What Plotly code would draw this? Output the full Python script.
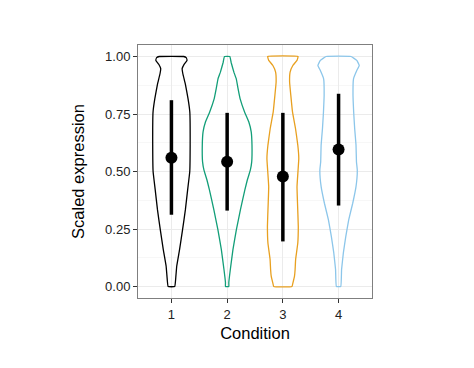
import plotly.graph_objects as go

# ---- data ----
conditions = [1, 2, 3, 4]
tick_labels = ["1", "2", "3", "4"]
colors = ["#000000", "#129E78", "#E8A020", "#8CC6EA"]

# violin outlines: y levels and half-widths (in condition units)
v1_y = [0, 0.045, 0.088, 0.16, 0.247, 0.333, 0.42, 0.50, 0.615, 0.759, 0.817, 0.88, 0.925, 0.947, 0.965, 0.983, 0.995, 1.0]
v1_w = [0.059, 0.080, 0.095, 0.146, 0.200, 0.250, 0.291, 0.329, 0.336, 0.330, 0.298, 0.250, 0.205, 0.192, 0.225, 0.280, 0.265, 0.220]

v2_y = [0, 0.017, 0.074, 0.16, 0.247, 0.333, 0.42, 0.463, 0.506, 0.542, 0.615, 0.672, 0.716, 0.759, 0.817, 0.86, 0.903, 0.932, 0.975, 1.0]
v2_w = [0.030, 0.030, 0.057, 0.104, 0.166, 0.238, 0.318, 0.362, 0.416, 0.441, 0.446, 0.432, 0.388, 0.313, 0.232, 0.196, 0.164, 0.121, 0.071, 0.048]

v3_y = [0, 0.017, 0.045, 0.074, 0.117, 0.189, 0.261, 0.362, 0.434, 0.506, 0.557, 0.615, 0.687, 0.759, 0.831, 0.889, 0.932, 0.961, 0.983, 1.0]
v3_w = [0.164, 0.182, 0.209, 0.220, 0.229, 0.268, 0.277, 0.263, 0.254, 0.273, 0.286, 0.268, 0.227, 0.173, 0.143, 0.121, 0.130, 0.179, 0.254, 0.273]

v4_y = [0, 0.074, 0.146, 0.218, 0.29, 0.362, 0.434, 0.506, 0.542, 0.615, 0.687, 0.759, 0.831, 0.903, 0.939, 0.961, 0.983, 1.0]
v4_w = [0.039, 0.054, 0.086, 0.130, 0.182, 0.254, 0.313, 0.336, 0.321, 0.313, 0.289, 0.271, 0.259, 0.268, 0.327, 0.371, 0.327, 0.223]

violin_y = [v1_y, v2_y, v3_y, v4_y]
violin_w = [v1_w, v2_w, v3_w, v4_w]

# summary: mean and interval
means = [0.560, 0.542, 0.478, 0.596]
upper = [0.810, 0.755, 0.755, 0.838]
lower = [0.312, 0.330, 0.196, 0.352]

y_ticks = [0, 0.25, 0.5, 0.75, 1.0]
y_tick_labels = ["0.00", "0.25", "0.50", "0.75", "1.00"]

# ---- figure ----
fig = go.Figure()

for c, ys, ws, col in zip(conditions, violin_y, violin_w, colors):
    xs = [c - w for w in ws] + [c + w for w in reversed(ws)] + [c - ws[0]]
    yy = list(ys) + list(reversed(ys)) + [ys[0]]
    fig.add_trace(go.Scatter(
        x=xs, y=yy, mode="lines",
        line=dict(color=col, width=1.3, shape="spline", smoothing=0.3),
        hoverinfo="skip", showlegend=False,
    ))

fig.add_trace(go.Scatter(
    x=conditions, y=means, mode="markers",
    marker=dict(color="black", size=12),
    error_y=dict(type="data", symmetric=False,
                 array=[u - m for u, m in zip(upper, means)],
                 arrayminus=[m - l for m, l in zip(means, lower)],
                 color="black", thickness=3.5, width=0),
    showlegend=False,
))

font_family = "Liberation Sans, Arial, sans-serif"

# page body has an 8px margin, so the figure is sized/offset to compensate
fig.update_layout(
    width=466, height=360,
    margin=dict(l=129.5, r=101.5, t=36.5, b=69.5, autoexpand=False),
    paper_bgcolor="white", plot_bgcolor="white",
    font=dict(family=font_family, color="black"),
    showlegend=False,
)

fig.update_xaxes(
    range=[0.4, 4.6], tickmode="array", tickvals=conditions, ticktext=tick_labels,
    ticks="outside", ticklen=4, tickcolor="#333333", tickwidth=1,
    tickfont=dict(size=13, color="#222222"),
    showgrid=True, gridcolor="#EBEBEB", gridwidth=1,
    showline=True, linecolor="#7F7F7F", linewidth=1, mirror=True,
    zeroline=False, automargin=False,
    title=dict(text="Condition", font=dict(size=16.5, color="black"), standoff=6),
)
fig.update_yaxes(
    range=[-0.05, 1.05], tickmode="array", tickvals=y_ticks, ticktext=y_tick_labels,
    ticks="outside", ticklen=4, tickcolor="#333333", tickwidth=1,
    tickfont=dict(size=13, color="#222222"),
    showgrid=True, gridcolor="#EBEBEB", gridwidth=1,
    minor=dict(tickvals=[0.125, 0.375, 0.625, 0.875], showgrid=True, gridcolor="#F7F7F7", ticks=""),
    showline=True, linecolor="#7F7F7F", linewidth=1, mirror=True,
    zeroline=False, automargin=False,
    title=dict(text="Scaled expression", font=dict(size=16.5, color="black"), standoff=16),
)

fig.write_html("out.html")
